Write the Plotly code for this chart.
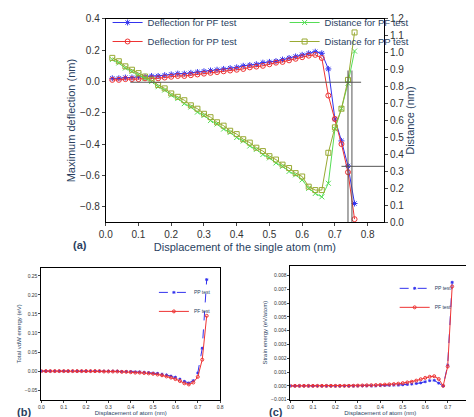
import plotly.graph_objects as go

xa = [0.02,0.04,0.06,0.08,0.10,0.12,0.14,0.16,0.18,0.20,0.22,0.24,0.26,0.28,0.30,0.32,0.34,0.36,0.38,0.40,
      0.42,0.44,0.46,0.48,0.50,0.52,0.54,0.56,0.58,0.60,0.62,0.64,0.66,0.68,0.70,0.72,0.74,0.76]
defl_pf = [0.02,0.02,0.025,0.025,0.03,0.03,0.035,0.035,0.04,0.045,0.05,0.05,0.055,0.06,0.065,0.07,0.075,0.08,0.085,0.09,
           0.10,0.105,0.11,0.12,0.125,0.13,0.14,0.15,0.16,0.17,0.18,0.19,0.18,0.08,-0.24,-0.38,-0.54,-0.78]
defl_pp = [0.01,0.01,0.015,0.015,0.015,0.02,0.02,0.02,0.025,0.03,0.035,0.035,0.04,0.045,0.05,0.055,0.06,0.065,0.07,0.075,
           0.08,0.09,0.095,0.10,0.11,0.12,0.125,0.135,0.145,0.155,0.165,0.17,0.15,-0.09,-0.24,-0.40,-0.58,-0.88]
dist_pf = [0.96,0.94,0.91,0.89,0.87,0.85,0.83,0.80,0.78,0.75,0.73,0.70,0.68,0.65,0.63,0.60,0.58,0.55,0.53,0.50,
           0.48,0.45,0.43,0.40,0.38,0.35,0.33,0.30,0.28,0.25,0.20,0.17,0.15,0.23,0.55,0.67,0.82,1.01]
dist_pp = [0.97,0.95,0.92,0.90,0.88,0.86,0.84,0.81,0.79,0.76,0.74,0.72,0.69,0.67,0.64,0.62,0.59,0.57,0.54,0.52,
           0.49,0.47,0.44,0.42,0.39,0.37,0.34,0.32,0.29,0.27,0.21,0.19,0.19,0.41,0.56,0.67,0.84,1.12]

xb = [0.00,0.02,0.04,0.06,0.08,0.10,0.12,0.14,0.16,0.18,0.20,0.22,0.24,0.26,0.28,0.30,0.32,0.34,0.36,0.38,
      0.40,0.42,0.44,0.46,0.48,0.50,0.52,0.54,0.56,0.58,0.60,0.62,0.64,0.66,0.68,0.70,0.72,0.74]
vdw_pp = [0,0,0,0,0,0,0,0,0,0,0,0,0,0,0,0,0,0,-0.001,-0.001,
          -0.001,-0.002,-0.002,-0.003,-0.004,-0.005,-0.006,-0.008,-0.010,-0.013,-0.016,-0.021,-0.027,-0.031,-0.025,-0.005,0.06,0.24]
vdw_pf = [0,0,0,0,0,0,0,0,0,0,0,0,0,0,-0.001,-0.001,-0.001,-0.001,-0.002,-0.002,
          -0.003,-0.004,-0.004,-0.005,-0.006,-0.007,-0.009,-0.011,-0.014,-0.017,-0.021,-0.026,-0.032,-0.035,-0.030,-0.015,0.03,0.145]

xc = [0.00,0.02,0.04,0.06,0.08,0.10,0.12,0.14,0.16,0.18,0.20,0.22,0.24,0.26,0.28,0.30,0.32,0.34,0.36,0.38,
      0.40,0.42,0.44,0.46,0.48,0.50,0.52,0.54,0.56,0.58,0.60,0.62,0.64,0.66,0.68,0.70,0.72]
se_pp = [0,0,0,0,0,0,0,0,0,0,0,0,0,0,0,0,0,0,0,0,
         0.00002,0.00003,0.00004,0.00005,0.00006,0.00008,0.0001,0.00013,0.00017,0.00022,0.0003,0.00038,0.0004,0.0002,0.0,0.0015,0.0075]
se_pf = [0,0,0,0,0,0,0,0,0,0,0,0,0,0,0.00001,0.00002,0.00003,0.00004,0.00005,0.00006,
         0.00007,0.00009,0.00011,0.00013,0.00016,0.0002,0.00025,0.0003,0.00038,0.00048,0.00058,0.00066,0.0007,0.0005,0.0,0.0014,0.0072]

BLUE = "#3333ee"; RED = "#ee3333"; GREEN = "#55dd55"; OLIVE = "#99aa33"
fig = go.Figure()
fig.add_trace(go.Scatter(x=xa, y=defl_pf, name="Deflection for PF test", mode="lines+markers",
    line=dict(color=BLUE, width=1), marker=dict(symbol="asterisk-open", size=5, color=BLUE), legend="legend"))
fig.add_trace(go.Scatter(x=xa, y=dist_pf, name="Distance for PF test", mode="lines+markers", yaxis="y2",
    line=dict(color=GREEN, width=1), marker=dict(symbol="x-thin-open", size=5, color=GREEN, line=dict(width=1, color=GREEN)), legend="legend"))
fig.add_trace(go.Scatter(x=xa, y=defl_pp, name="Deflection for PP test", mode="lines+markers",
    line=dict(color=RED, width=1), marker=dict(symbol="circle-open", size=5, color=RED), legend="legend"))
fig.add_trace(go.Scatter(x=xa, y=dist_pp, name="Distance for PP test", mode="lines+markers", yaxis="y2",
    line=dict(color=OLIVE, width=1), marker=dict(symbol="square-open", size=5, color=OLIVE), legend="legend"))

fig.add_trace(go.Scatter(x=xb, y=vdw_pp, name="PP test", mode="lines+markers", xaxis="x3", yaxis="y3",
    line=dict(color=BLUE, width=1, dash="dash"), marker=dict(symbol="asterisk-open", size=2.5, color=BLUE), legend="legend2"))
fig.add_trace(go.Scatter(x=xb, y=vdw_pf, name="PF test", mode="lines+markers", xaxis="x3", yaxis="y3",
    line=dict(color=RED, width=1), marker=dict(symbol="circle-open", size=3, color=RED), legend="legend2"))
fig.add_trace(go.Scatter(x=xc, y=se_pp, name="PP test", mode="lines+markers", xaxis="x4", yaxis="y4",
    line=dict(color=BLUE, width=1, dash="dash"), marker=dict(symbol="asterisk-open", size=2.5, color=BLUE), legend="legend3"))
fig.add_trace(go.Scatter(x=xc, y=se_pf, name="PF test", mode="lines+markers", xaxis="x4", yaxis="y4",
    line=dict(color=RED, width=1), marker=dict(symbol="circle-open", size=3, color=RED), legend="legend3"))

F = "Liberation Sans"
ax = dict(showline=True, mirror=True, linecolor="black", linewidth=1, ticks="outside", showgrid=False,
          zeroline=False, tickfont=dict(size=10, family=F, color="#333"), ticklen=3)
small = dict(ax, tickfont=dict(size=5, family=F, color="#333"), ticklen=2)

fig.update_layout(
    width=474, height=417, margin=dict(l=0, r=0, t=0, b=0), plot_bgcolor="white", paper_bgcolor="white",
    xaxis=dict(ax, domain=[0.196, 0.797], range=[0, 0.85], dtick=0.1, tickformat=".1f", anchor="y",
               title=dict(text="Displacement of the single atom (nm)", font=dict(size=11, family=F), standoff=4)),
    yaxis=dict(ax, domain=[0.487, 0.988], range=[-0.9, 0.4], dtick=0.2, tickformat=".1f", anchor="x",
               title=dict(text="Maximum deflection (nm)", font=dict(size=11, family=F), standoff=2)),
    yaxis2=dict(ax, overlaying="y", side="right", range=[0, 1.2], dtick=0.1, tickformat=".1f", anchor="x",
                mirror=False, title=dict(text="Distance (nm)", font=dict(size=11, family=F), standoff=2)),
    xaxis3=dict(small, domain=[0.057, 0.443], range=[0, 0.8], dtick=0.1, tickformat=".1f", anchor="y3",
                title=dict(text="Displacement of atom (nm)", font=dict(size=6, family=F), standoff=2)),
    yaxis3=dict(small, domain=[0.05, 0.374], range=[-0.075, 0.27], dtick=0.05, tickformat=".2f", anchor="x3",
                title=dict(text="Total vdW energy (eV)", font=dict(size=6, family=F), standoff=2)),
    xaxis4=dict(small, domain=[0.595, 0.983], range=[0, 0.8], dtick=0.1, tickformat=".1f", anchor="y4",
                title=dict(text="Displacement of atom (nm)", font=dict(size=6, family=F), standoff=2)),
    yaxis4=dict(small, domain=[0.05, 0.38], range=[-0.001, 0.0087], dtick=0.001, tickformat=".3f", anchor="x4",
                title=dict(text="Strain energy (eV/atom)", font=dict(size=6, family=F), standoff=2)),
    legend=dict(x=0.2, y=1.015, xanchor="left", yanchor="top", orientation="h", entrywidth=132,
                font=dict(size=9.5, family=F), bgcolor="rgba(255,255,255,0)", tracegroupgap=0, itemwidth=30),
    legend2=dict(x=0.3, y=0.35, xanchor="left", yanchor="top", font=dict(size=5, family=F),
                 bgcolor="rgba(255,255,255,0)", itemwidth=30, tracegroupgap=0),
    legend3=dict(x=0.82, y=0.36, xanchor="left", yanchor="top", font=dict(size=5, family=F),
                 bgcolor="rgba(255,255,255,0)", itemwidth=30, tracegroupgap=0),
    annotations=[
        dict(text="<b>(a)</b>", x=0.12, y=0.43, xref="paper", yref="paper", showarrow=False, font=dict(size=11, family=F)),
        dict(text="<b>(b)</b>", x=0.0, y=0.0, xref="paper", yref="paper", xanchor="left", yanchor="bottom", showarrow=False, font=dict(size=11, family=F)),
        dict(text="<b>(c)</b>", x=0.545, y=0.0, xref="paper", yref="paper", xanchor="left", yanchor="bottom", showarrow=False, font=dict(size=11, family=F)),
    ],
    shapes=[
        dict(type="line", xref="x", yref="y", x0=0.075, x1=0.78, y0=-0.005, y1=-0.005, line=dict(color="#555", width=1)),
        dict(type="line", xref="x", yref="y", x0=0.74, x1=0.74, y0=0.07, y1=-0.9, line=dict(color="#555", width=1)),
        dict(type="line", xref="x", yref="y", x0=0.752, x1=0.752, y0=0.07, y1=-0.9, line=dict(color="#555", width=1)),
        dict(type="line", xref="x", yref="y2", x0=0.72, x1=0.86, y0=0.33, y1=0.33, line=dict(color="#555", width=1)),
    ],
)
fig.write_html("out.html")
